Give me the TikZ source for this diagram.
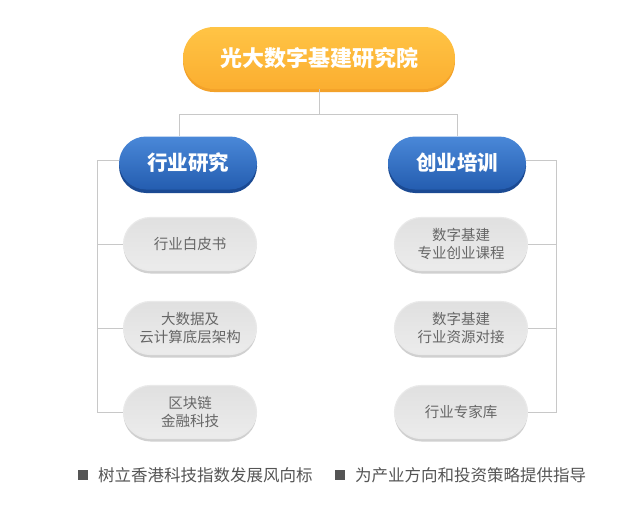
\documentclass[tikz,border=0pt]{standalone}
\usepackage{fontspec}
\newfontfamily\cjk{Noto Sans CJK SC}
\usetikzlibrary{shadows,calc}
\definecolor{linegray}{HTML}{C8C8C8}
\definecolor{txtgray}{HTML}{666666}
\definecolor{bulgray}{HTML}{555555}
\definecolor{orangetop}{HTML}{FFC445}
\definecolor{orangebot}{HTML}{FBAE30}
\definecolor{orangeshadow}{HTML}{F3A22A}
\definecolor{bluetop}{HTML}{4A88D8}
\definecolor{bluebot}{HTML}{245DB0}
\definecolor{blueshadow}{HTML}{1B4A93}
\definecolor{graytop}{HTML}{E0E0E0}
\definecolor{graybot}{HTML}{ECECEC}
\definecolor{grayrim}{HTML}{E9E9E9}
\definecolor{grayshadow}{HTML}{D0D0D0}
\begin{document}
\begin{tikzpicture}[x=1pt,y=-1pt,
  conn/.style={draw=linegray, line width=0.9pt},
  orangepill/.style={rectangle, rounded corners=31pt, minimum width=272pt, minimum height=62pt,
    top color=orangetop, bottom color=orangebot, draw=none,
    drop shadow={shadow xshift=0pt, shadow yshift=-3pt, fill=orangeshadow, opacity=1},
    font=\cjk\bfseries\fontsize{22}{26}\selectfont, text=white, inner sep=0pt},
  bluepill/.style={rectangle, rounded corners=27pt, minimum width=138pt, minimum height=53pt,
    top color=bluetop, bottom color=bluebot, draw=none,
    drop shadow={shadow xshift=0pt, shadow yshift=-3.5pt, fill=blueshadow, opacity=1},
    font=\cjk\bfseries\fontsize{20.5}{24}\selectfont, text=white, inner sep=0pt},
  graypill/.style={rectangle, rounded corners=27pt, minimum width=133pt, minimum height=53pt,
    top color=graytop, bottom color=graybot, draw=grayrim, line width=1.2pt,
    drop shadow={shadow xshift=0pt, shadow yshift=-3pt, fill=grayshadow, opacity=1},
    font=\cjk\fontsize{14.5}{18.5}\selectfont, text=txtgray, align=center, inner sep=0pt},
  bullettext/.style={anchor=west, font=\cjk\fontsize{16.5}{20}\selectfont, text=bulgray, inner sep=0pt},
  bulletsq/.style={fill=bulgray, minimum size=10pt, inner sep=0pt}
]
\useasboundingbox[fill=white] (0,0) rectangle (643,506);

\node[orangepill] (top) at (319,58) {光大数字基建研究院};
\node[bluepill] (bl) at (188,163) {行业研究};
\node[bluepill] (br) at (457,163) {创业培训};

\node[graypill] (l1) at (190,244) {行业白皮书};
\node[graypill] (l2) at (190,328) {大数据及\\云计算底层架构};
\node[graypill] (l3) at (190,412) {区块链\\金融科技};
\node[graypill] (r1) at (461,244) {数字基建\\专业创业课程};
\node[graypill] (r2) at (461,328) {数字基建\\行业资源对接};
\node[graypill] (r3) at (461,412) {行业专家库};

\coordinate (j) at (319,114);
\coordinate (lx) at (97,0);
\coordinate (rx) at (556,0);

\node[bulletsq] (b1) at (83,475) {};
\node[bullettext] (t1) at (98,475) {树立香港科技指数发展风向标};
\node[bulletsq] (b2) at (340,475) {};
\node[bullettext] (t2) at (355,475) {为产业方向和投资策略提供指导};

% connectors
\draw[conn] (top.south) -- (j);
\draw[conn] (j) -| ([xshift=-9pt]bl.north);
\draw[conn] (j) -| (br.north);
\draw[conn] ([yshift=3pt]bl.west) -| (lx |- l3.west) -- (l3.west);
\draw[conn] (lx |- l1.west) -- (l1.west);
\draw[conn] (lx |- l2.west) -- (l2.west);
\draw[conn] ([yshift=3pt]br.east) -| (rx |- r3.east) -- (r3.east);
\draw[conn] (rx |- r1.east) -- (r1.east);
\draw[conn] (rx |- r2.east) -- (r2.east);
\end{tikzpicture}
\end{document}
